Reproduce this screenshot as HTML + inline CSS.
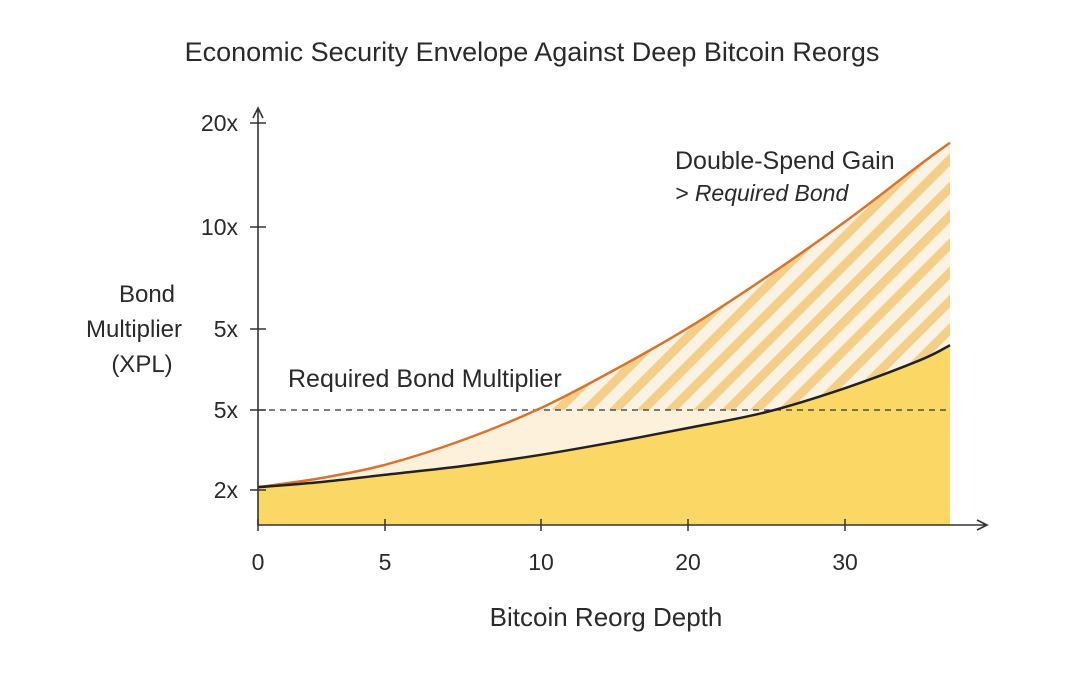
<!DOCTYPE html>
<html><head><meta charset="utf-8"><style>
body{margin:0;background:#fff;}
svg text{font-family:"Liberation Sans",sans-serif;fill:#2a2a2a;}
</style></head><body>
<svg width="1080" height="676" viewBox="0 0 1080 676">
<defs>
<pattern id="hatch" patternUnits="userSpaceOnUse" width="20" height="20" patternTransform="rotate(45)">
<rect width="20" height="20" fill="#faf3e3"/>
<rect width="9" height="20" fill="#f4cf8a"/>
</pattern>
<clipPath id="aboveDash"><rect x="0" y="0" width="1080" height="410"/></clipPath>
</defs>
<text x="532" y="61" text-anchor="middle" font-size="27">Economic Security Envelope Against Deep Bitcoin Reorgs</text>
<g id="plot"></g>
<text x="147" y="302" text-anchor="middle" font-size="24">Bond</text>
<text x="134" y="337" text-anchor="middle" font-size="24">Multiplier</text>
<text x="142" y="372" text-anchor="middle" font-size="24">(XPL)</text>
<text x="606" y="626" text-anchor="middle" font-size="26">Bitcoin Reorg Depth</text>
<text x="288" y="387" font-size="25">Required Bond Multiplier</text>
<text x="675" y="169" font-size="25">Double-Spend Gain</text>
<text x="675" y="201" font-size="23" font-style="italic">&gt; Required Bond</text>
</svg>
<script>
const depths=[0,2.5,5,7.5,10,15,20,25,30,35,37];
const gainValues=[2.07,2.3,2.63,3.25,4.05,4.99,6.04,8.04,10.5,16,18.1];
const bondValues=[2.07,2.2,2.38,2.6,2.88,3.2,3.55,3.95,4.54,5.23,5.6];
const xTicks=[0,5,10,20,30];
const yTickVals=[2,4,6,10,20];
const yTickLabels=["2x","5x","5x","10x","20x"];
const thresholdValue=4;
const xDom=[0,5,10,20,30,37], xPix=[258,385,541,688,845,950];
const yDom=[0,2,4,6,10,20], yPix=[525,490,410,329,227,123];
function pw(v,d,p){for(let i=0;i<d.length-1;i++){if(v<=d[i+1]||i==d.length-2){return p[i]+(v-d[i])/(d[i+1]-d[i])*(p[i+1]-p[i]);}}}
const X=v=>pw(v,xDom,xPix), Y=v=>pw(v,yDom,yPix);
function smooth(pts){let d=`M${pts[0][0]},${pts[0][1]}`;for(let i=0;i<pts.length-1;i++){const p0=pts[Math.max(0,i-1)],p1=pts[i],p2=pts[i+1],p3=pts[Math.min(pts.length-1,i+2)];
const c1=[p1[0]+(p2[0]-p0[0])/6,p1[1]+(p2[1]-p0[1])/6],c2=[p2[0]-(p3[0]-p1[0])/6,p2[1]-(p3[1]-p1[1])/6];d+=`C${c1},${c2},${p2}`;}return d;}
function rev(pts){let r=pts.slice().reverse();return smooth(r).replace(/^M/,'L');}
const gp=depths.map((d,i)=>[X(d),Y(gainValues[i])]), bp=depths.map((d,i)=>[X(d),Y(bondValues[i])]);
const g=document.getElementById('plot'),NS="http://www.w3.org/2000/svg";
function el(t,a){const e=document.createElementNS(NS,t);for(const k in a)e.setAttribute(k,a[k]);g.appendChild(e);return e;}
const last=depths.length-1,y0=Y(0);
let e;
e=el('path',{d:smooth(gp)+rev(bp)+'Z',fill:'#fdf1db'});


e=el('path',{d:smooth(gp)+rev(bp)+'Z',fill:'url(#hatch)','clip-path':'url(#aboveDash)'});


e=el('path',{d:smooth(bp)+`L${bp[last][0]},${y0}L${bp[0][0]},${y0}Z`,fill:'#fbd766'});


e=el('line',{x1:X(0),x2:X(37),y1:Y(thresholdValue),y2:Y(thresholdValue),stroke:'#333','stroke-width':1.3,'stroke-dasharray':'6,5'});


e=el('path',{d:smooth(gp),fill:'none',stroke:'#d9722a','stroke-width':2.5});


e=el('path',{d:smooth(bp),fill:'none',stroke:'#222','stroke-width':2.5});


e=el('path',{d:`M258,525L985,525M977,520L987,525L977,530M258,525L258,108M253,118L258,108L263,118`,fill:'none',stroke:'#333','stroke-width':1.6});


xTicks.forEach(v=>{const x=X(v);
e=el('line',{x1:x,x2:x,y1:519,y2:531,stroke:'#333','stroke-width':1.5});


e=el('text',{x:x,y:570,'text-anchor':'middle','font-size':23});e.textContent=v;

});
yTickVals.forEach((v,i)=>{const y=Y(v);
e=el('line',{x1:250,x2:266,y1:y,y2:y,stroke:'#333','stroke-width':1.5});


e=el('text',{x:238,y:y+8,'text-anchor':'end','font-size':23});e.textContent=yTickLabels[i];

});
</script>
</body></html>
